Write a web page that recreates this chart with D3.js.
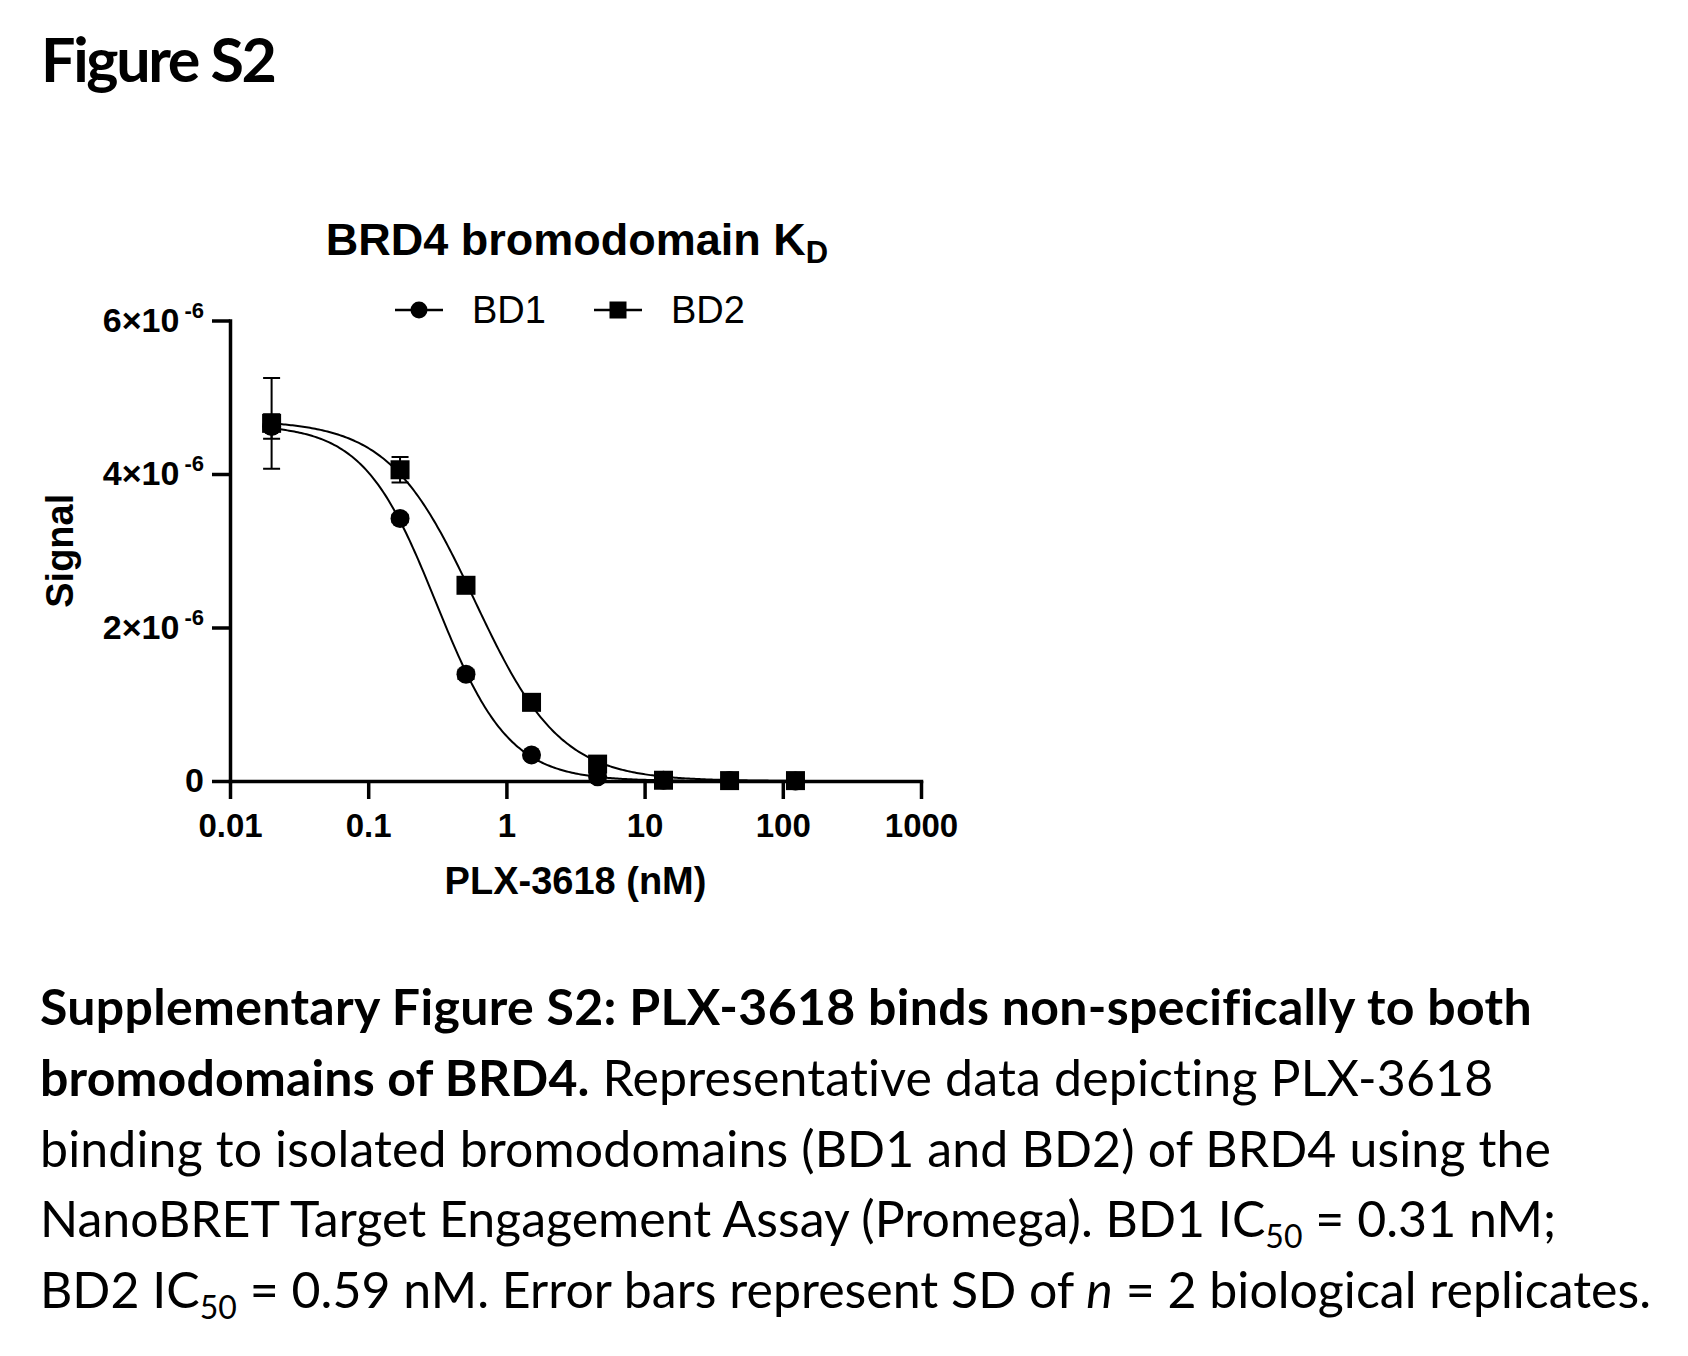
<!DOCTYPE html>
<html>
<head>
<meta charset="utf-8">
<title>Figure S2</title>
<style>
body { margin: 0; background: #fff; }
svg { display: block; }
.axis path, .axis line { stroke: #000; stroke-width: 3.5px; }
.axis path { stroke-linecap: square; }
.axis text { font-family: "Liberation Sans", Arial, sans-serif; font-weight: bold; font-size: 33px; fill: #000; }
.chart-text { font-family: "Liberation Sans", Arial, sans-serif; fill: #000; }
.fit { fill: none; stroke: #000; stroke-width: 2px; }
.err { stroke: #000; stroke-width: 2px; fill: none; }
.caption { font-family: Lato, sans-serif; font-size: 50px; fill: #000; white-space: pre; }
</style>
</head>
<body>
<script src="https://d3js.org/d3.v7.min.js"></script>
<script>

// PLX-3618 concentrations (nM), 3-fold dilution
var conc = [0.02, 0.17, 0.51, 1.52, 4.57, 13.7, 41.2, 123.5];

// NanoBRET signal, mean and SD (n = 2)
var bd1Mean = [4.62e-6, 3.42e-6, 1.39e-6, 0.34e-6, 0.056e-6, 0.01e-6, 0.005e-6, 0.0];
var bd1Sd   = [0.16e-6, 0.05e-6, 0.06e-6, 0.03e-6, 0.02e-6, 0.01e-6, 0.01e-6, 0.01e-6];
var bd2Mean = [4.66e-6, 4.055e-6, 2.55e-6, 1.025e-6, 0.22e-6, 0.01e-6, 0.005e-6, 0.005e-6];
var bd2Sd   = [0.59e-6, 0.165e-6, 0.1e-6, 0.05e-6, 0.06e-6, 0.01e-6, 0.01e-6, 0.01e-6];

// four-parameter fit (top, bottom, IC50 in nM, Hill slope)
var fitTop    = [4.645e-6, 4.70e-6];
var fitBottom = [0, 0];
var fitIC50   = [0.31, 0.59];
var fitHill   = [1.65, 1.4];

var seriesNames = ["BD1", "BD2"];
var xTicks = [0.01, 0.1, 1, 10, 100, 1000];
var xTickLabels = ["0.01", "0.1", "1", "10", "100", "1000"];
var yTicks = [0, 2e-6, 4e-6, 6e-6];

var captionLines = [
  [["Supplementary Figure S2: PLX-3618 binds non-specifically to both", "b"]],
  [["bromodomains of BRD4.", "b"], [" Representative data depicting PLX-3618", ""]],
  [["binding to isolated bromodomains (BD1 and BD2) of BRD4 using the", ""]],
  [["NanoBRET Target Engagement Assay (Promega). BD1 IC", ""], ["50", "sub"], [" = 0.31 nM;", ""]],
  [["BD2 IC", ""], ["50", "sub"], [" = 0.59 nM. Error bars represent SD of ", ""], ["n", "i"], [" = 2 biological replicates.", ""]]
];
var captionWidths = [1491, 1455, 1511, 1516, 1611];

var width = 1688, height = 1356;

var svg = d3.select("body").append("svg")
    .attr("width", width)
    .attr("height", height);

svg.append("rect").attr("width", width).attr("height", height).attr("fill", "#fff");

// stretch a text line to the width it has in the figure
function fitWidth(sel, w) {
  var n = sel.node();
  var natural = n.getComputedTextLength();
  var chars = n.getNumberOfChars();
  sel.style("letter-spacing", ((w - natural) / (chars - 1)) + "px");
}

// heading
var heading = svg.append("text")
    .attr("x", 41).attr("y", 82)
    .style("font-family", "Lato, sans-serif")
    .style("font-weight", "bold")
    .style("font-size", "61px")
    .text("Figure S2");
fitWidth(heading, 236);

// plot
var x = d3.scaleLog().domain([0.01, 1000]).range([230, 921]);
var y = d3.scaleLinear().domain([0, 6e-6]).range([781, 320.5]);

var xAxis = svg.append("g")
    .attr("class", "axis")
    .attr("transform", "translate(0," + y(0) + ")")
    .call(d3.axisBottom(x).tickValues(xTicks).tickSize(18).tickSizeOuter(0)
      .tickPadding(15).tickFormat(function(d, i) { return xTickLabels[i]; }));

var yAxis = svg.append("g")
    .attr("class", "axis")
    .attr("transform", "translate(" + x(0.01) + ",0)")
    .call(d3.axisLeft(y).tickValues(yTicks).tickSize(18).tickSizeOuter(0)
      .tickPadding(8).tickFormat(""));

yAxis.selectAll(".tick text").style("font-size", "34px").each(function(d) {
  var t = d3.select(this);
  if (d === 0) { t.text("0"); return; }
  t.append("tspan").text(Math.round(d * 1e6) + "×10");
  t.append("tspan").attr("dx", 5).attr("dy", -14).style("font-size", "22px").text("-6");
});

// axis titles
svg.append("text")
    .attr("class", "chart-text")
    .attr("x", (x(0.01) + x(1000)) / 2).attr("y", 894)
    .attr("text-anchor", "middle")
    .style("font-weight", "bold").style("font-size", "38px")
    .text("PLX-3618 (nM)");

svg.append("text")
    .attr("class", "chart-text")
    .attr("transform", "translate(73," + (y(0) + y(6e-6)) / 2 + ") rotate(-90)")
    .attr("text-anchor", "middle")
    .style("font-weight", "bold").style("font-size", "38px")
    .text("Signal");

// chart title
var title = svg.append("text")
    .attr("class", "chart-text")
    .attr("x", 577).attr("y", 255)
    .attr("text-anchor", "middle")
    .style("font-weight", "bold").style("font-size", "45px");
title.append("tspan").text("BRD4 bromodomain K");
title.append("tspan").attr("dy", 8).style("font-size", "31px").text("D");

// fitted curves
var line = d3.line()
    .x(function(d) { return x(d[0]); })
    .y(function(d) { return y(d[1]); });

var lo = Math.log10(conc[0]), hi = Math.log10(conc[conc.length - 1]);
seriesNames.forEach(function(name, k) {
  var pts = d3.range(0, 301).map(function(i) {
    var c = Math.pow(10, lo + (hi - lo) * i / 300);
    return [c, fitBottom[k] + (fitTop[k] - fitBottom[k]) / (1 + Math.pow(c / fitIC50[k], fitHill[k]))];
  });
  svg.append("path").attr("class", "fit").attr("d", line(pts));
});

// error bars and markers
var means = [bd1Mean, bd2Mean], sds = [bd1Sd, bd2Sd];
var capHalf = 8.5;

seriesNames.forEach(function(name, k) {
  var rows = conc.map(function(c, i) { return {c: c, m: means[k][i], sd: sds[k][i]}; });
  var g = svg.append("g");

  g.selectAll("path.err").data(rows).join("path")
      .attr("class", "err")
      .attr("d", function(d) {
        var cx = x(d.c), y1 = y(d.m + d.sd), y0 = y(d.m - d.sd);
        return "M" + cx + "," + y1 + "V" + y0 +
               "M" + (cx - capHalf) + "," + y1 + "H" + (cx + capHalf) +
               "M" + (cx - capHalf) + "," + y0 + "H" + (cx + capHalf);
      });

  if (k === 0) {
    g.selectAll("circle").data(rows).join("circle")
        .attr("cx", function(d) { return x(d.c); })
        .attr("cy", function(d) { return y(d.m); })
        .attr("r", 9.5)
        .attr("fill", "#000");
  } else {
    g.selectAll("rect").data(rows).join("rect")
        .attr("x", function(d) { return x(d.c) - 9.5; })
        .attr("y", function(d) { return y(d.m) - 9.5; })
        .attr("width", 19).attr("height", 19)
        .attr("fill", "#000");
  }
});

// legend
var legend = svg.append("g").attr("transform", "translate(395,310)");
var item = legend.selectAll("g").data(seriesNames).join("g")
    .attr("transform", function(d, i) { return "translate(" + i * 199 + ",0)"; });

item.append("line")
    .attr("x1", 0).attr("x2", 48)
    .attr("stroke", "#000").attr("stroke-width", 2.5);
item.filter(function(d, i) { return i === 0; }).append("circle")
    .attr("cx", 24).attr("r", 8.5).attr("fill", "#000");
item.filter(function(d, i) { return i === 1; }).append("rect")
    .attr("x", 24 - 8.5).attr("y", -8.5).attr("width", 17).attr("height", 17).attr("fill", "#000");
item.append("text")
    .attr("class", "chart-text")
    .attr("x", 77).attr("y", 13)
    .style("font-size", "38px")
    .text(function(d) { return d; });

// caption
captionLines.forEach(function(segs, i) {
  var t = svg.append("text")
      .attr("class", "caption")
      .attr("x", 40).attr("y", 1025 + i * 70.8);
  segs.forEach(function(s) {
    var sp = t.append("tspan").text(s[0]);
    if (s[1] === "b") sp.style("font-weight", "bold");
    if (s[1] === "i") sp.style("font-style", "italic");
    if (s[1] === "sub") sp.attr("dy", 11).style("font-size", "32px");
  });
  // bring the baseline back after a subscript
  t.selectAll("tspan").each(function(d, j) {
    if (j > 0 && segs[j - 1][1] === "sub") d3.select(this).attr("dy", -11);
  });
  fitWidth(t, captionWidths[i]);
});

</script>
</body>
</html>
